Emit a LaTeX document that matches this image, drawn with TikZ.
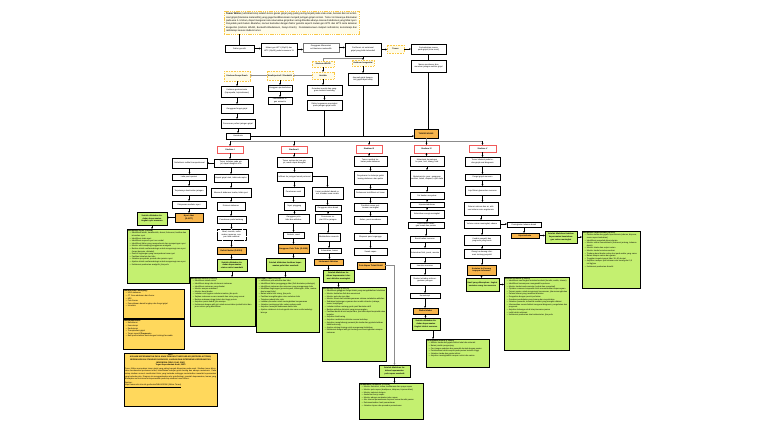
\documentclass[tikz,border=0pt]{standalone}
\usepackage{fontspec}
\setmainfont{Liberation Sans}
\usetikzlibrary{shadows,arrows.meta}
\definecolor{gr}{RGB}{196,240,112}
\definecolor{orb}{RGB}{247,181,76}
\definecolor{yl}{RGB}{255,216,92}
\definecolor{ylb}{RGB}{250,200,70}
\definecolor{ylf}{RGB}{255,252,232}
\definecolor{rd}{RGB}{240,90,90}
\newcommand\tf{\fontsize{2}{2.6}\selectfont}
\newcommand\itm[1]{\par\hangindent=4pt\hangafter=1\noindent\makebox[4pt][r]{\textbullet\hspace{1.3pt}}#1}
\newcommand\justif{\leftskip=0pt\rightskip=0pt\parfillskip=0pt plus 1fil\relax}
\tikzset{
 base/.style={inner sep=0.4pt, outer sep=0pt, font=\tf},
 wb/.style={base, draw=black, line width=0.6pt, fill=white, general shadow={fill=black!60, shadow xshift=0.6pt, shadow yshift=-0.8pt}},
 thinb/.style={base, draw=black!55, line width=0.35pt, fill=white},
 yb/.style={base, draw=ylb, line width=0.55pt, dash pattern=on 1pt off 0.6pt, fill=ylf, font=\tf\bfseries},
 topb/.style={base, draw=ylb, line width=0.65pt, dash pattern=on 1.4pt off 0.8pt, fill=ylf},
 ob/.style={wb, fill=orb, font=\tf\bfseries},
 gb/.style={wb, fill=gr, font=\tf\bfseries},
 gbig/.style={wb, fill=gr, line width=0.7pt},
 ybig/.style={wb, fill=yl, line width=0.7pt},
 rb/.style={base, draw=rd, line width=0.65pt, fill=white, font=\tf\bfseries},
 db/.style={base, draw=black, line width=0.45pt, dash pattern=on 0.6pt off 0.5pt, fill=white},
 cn/.style={draw=black, line width=0.6pt},
 ar/.style={cn, -{Stealth[length=1.9pt,width=1.8pt]}},
 gl/.style={draw=black!45, line width=0.65pt},
 gar/.style={gl, -{Stealth[length=1.9pt,width=1.8pt]}},
}
\newcommand{\bx}[7]{%
 \pgfmathsetmacro\bxw{#5-#3}\pgfmathsetmacro\bxh{#6-#4}\pgfmathsetmacro\bxt{#5-#3-1.6}%
 \node[#1, align=center, minimum width=\bxw pt, minimum height=\bxh pt, text width=\bxt pt] (#2) at ({(#3+#5)/2},{(#4+#6)/2}) {#7};}
\newcommand{\bigbx}[7]{%
 \pgfmathsetmacro\bxw{#5-#3-1.6}\pgfmathsetmacro\bxh{#6-#4-1.6}%
 \node[#1, inner sep=0.8pt, anchor=north west] (#2) at (#3,#4) {\begin{minipage}[t][\bxh pt][t]{\bxw pt}\raggedright #7\end{minipage}};}
\newcommand{\vd}[2]{\draw[ar] (#1.south) -- (#1.south |- #2.north);}
\begin{document}
\begin{tikzpicture}[x=1pt,y=-1pt]
\useasboundingbox (0,0) rectangle (768,431);
\fill[white] (0,0) rectangle (768,431);

% ---------------- top chain
\node[topb, minimum width=135pt, minimum height=23pt, text width=131pt, align=justify, font=\fontsize{2.4}{3.3}\selectfont] (T0) at (291.5,22.5) {\textbf{Tumor Wilms} (nefroblastoma) adalah tumor ganas ginjal yang paling sering terjadi pada anak-anak, berasal dari sel embrional ginjal (blastema metanefrik) yang gagal berdiferensiasi menjadi jaringan ginjal normal. Tumor ini biasanya ditemukan pada usia 2--5 tahun, dapat mengenai satu atau kedua ginjal dan sering ditandai adanya massa di abdomen yang tidak nyeri. Penyebab pasti belum diketahui, namun berkaitan dengan faktor genetik seperti mutasi gen WT1 dan WT2 serta kelainan kongenital (sindrom WAGR, Beckwith-Wiedemann, Denys-Drash). Penatalaksanaan meliputi nefrektomi, kemoterapi dan radioterapi sesuai stadium tumor.};
\bx{wb}{T1}{225}{45}{254}{52}{Faktor genetik}
\bx{wb}{T2}{261}{43}{297}{56}{Mutasi gen WT1 (11p13) dan WT2 (11p15) pada kromosom 11}
\bx{thinb}{T3}{303}{43}{339}{52}{Gangguan diferensiasi sel blastema metanefrik}
\bx{wb}{T4}{345}{43}{381}{56}{Proliferasi sel embrional ginjal yang tidak terkendali}
\bx{yb}{T5}{387}{45}{404}{53}{Tumor}
\bx{wb}{T6}{411}{44}{446}{54}{Pertumbuhan massa pada ginjal (intra renal)}
\bx{wb}{T7}{411}{60}{446}{72}{Massa membesar dan menekan jaringan sekitar ginjal}

% ---------------- second row
\bx{yb}{Y1}{312}{61}{334}{67}{Sindrom WAGR}
\bx{yb}{Y2}{352}{60}{374}{66}{Kelainan kongenital}
\bx{yb}{Y3}{312}{72}{334}{79}{Aniridia}
\bx{yb}{Y4}{267}{71}{293}{80}{Hemihipertrofi / Beckwith}
\bx{yb}{Y5}{224}{71}{250}{81}{Sindrom Denys-Drash}
\bx{wb}{A1}{221}{86}{253}{97}{Kelainan genitourinaria (hipospadia, kriptorkismus)}
\bx{wb}{A2}{221}{104}{253}{113}{Gangguan fungsi ginjal}
\bx{wb}{A3}{221}{119}{255}{128}{Penurunan perfusi jaringan ginjal}
\bx{wb}{A4}{226}{133}{250}{139}{Hematuria}
\bx{wb}{B1}{268}{85}{292}{91}{Gangguan pertumbuhan}
\bx{wb}{B2}{268}{97}{292}{104}{Pembesaran organ asimetris}
\bx{wb}{C1}{307}{85}{342}{95}{Retardasi mental dan gangguan tumbuh kembang}
\bx{wb}{C2}{307}{100}{342}{110}{Risiko keganasan meningkat pada jaringan ginjal anak}
\bx{wb}{D1}{348}{73}{378}{85}{Anomali ginjal kongenital (ginjal tapal kuda)}
\bx{ob}{OR}{414}{129}{438}{138}{TUMOR WILMS}

% ---------------- stadium headers
\bx{rb}{S1}{217}{146}{243}{153}{Stadium I}
\bx{rb}{S2}{281}{146}{307}{153}{Stadium II}
\bx{rb}{S3}{356}{145}{382}{153}{Stadium III}
\bx{rb}{S4}{414}{145}{439}{153}{Stadium IV}
\bx{rb}{S5}{469}{145}{496}{152}{Stadium V}

% ---------------- Stadium I
\bx{wb}{P1}{214}{159}{248}{167}{Tumor terbatas pada ginjal, dapat diangkat utuh}
\bx{wb}{P2}{214}{174}{248}{182}{Kapsul ginjal utuh, tidak ada ruptur}
\bx{wb}{P3}{211}{188}{251}{197}{Massa di abdomen teraba, tidak nyeri}
\bx{wb}{P4}{217}{202}{245}{210}{Distensi abdomen}
\bx{wb}{P5}{217}{216}{246}{223}{Penekanan pada lambung}
\bx{db}{P6}{217}{229}{246}{240}{Mual, muntah, nafsu makan menurun, asupan tidak adekuat}
\bx{ob}{P7}{217}{247}{246}{254}{Defisit Nutrisi (D.0019)}
\bx{gb}{P8}{217}{259}{247}{271}{Setelah dilakukan tindakan keperawatan status nutrisi membaik}
\bigbx{gbig}{P9}{190}{277}{255}{326}{\textbf{Manajemen Nutrisi (I.03119)}
\itm{Identifikasi status nutrisi}
\itm{Identifikasi alergi dan intoleransi makanan}
\itm{Identifikasi makanan yang disukai}
\itm{Monitor asupan makanan}
\itm{Monitor berat badan}
\itm{Lakukan oral hygiene sebelum makan, jika perlu}
\itm{Sajikan makanan secara menarik dan suhu yang sesuai}
\itm{Berikan makanan tinggi kalori dan tinggi protein}
\itm{Anjurkan posisi duduk, jika mampu}
\itm{Kolaborasi dengan ahli gizi untuk menentukan jumlah kalori dan jenis nutrien yang dibutuhkan}}
\bx{wb}{Q1}{172}{158}{207}{168}{Nefrektomi radikal transperitoneal}
\bx{wb}{Q2}{172}{174}{206}{180}{Luka post operasi}
\bx{wb}{Q3}{172}{186}{206}{195}{Terputusnya kontinuitas jaringan}
\bx{wb}{Q4}{172}{201}{206}{208}{Pelepasan mediator nyeri}
\bx{ob}{Q5}{175}{213}{203}{222}{Nyeri Akut\\(D.0077)}
\bx{gb}{Q6}{137}{212}{167}{225}{Setelah dilakukan tindakan keperawatan tingkat nyeri menurun}
\bigbx{gbig}{Q7}{127}{229}{189}{283}{\textbf{Manajemen Nyeri (I.08238)}
\itm{Identifikasi lokasi, karakteristik, durasi, frekuensi, kualitas dan intensitas nyeri}
\itm{Identifikasi skala nyeri}
\itm{Identifikasi respons nyeri non verbal}
\itm{Identifikasi faktor yang memperberat dan memperingan nyeri}
\itm{Monitor efek samping penggunaan analgetik}
\itm{Berikan teknik nonfarmakologis untuk mengurangi rasa nyeri (terapi bermain, distraksi)}
\itm{Kontrol lingkungan yang memperberat rasa nyeri}
\itm{Fasilitasi istirahat dan tidur}
\itm{Jelaskan penyebab, periode dan pemicu nyeri}
\itm{Ajarkan teknik nonfarmakologis untuk mengurangi rasa nyeri}
\itm{Kolaborasi pemberian analgetik, jika perlu}}
\bigbx{ybig}{R1}{123}{289}{184}{318}{\textbf{Pemeriksaan Penunjang :}
\itm{USG abdomen}
\itm{CT Scan abdomen dan thorax}
\itm{MRI}
\itm{Foto thorax}
\itm{Pemeriksaan darah lengkap dan fungsi ginjal}
\itm{Urinalisis}}
\bigbx{ybig}{R2}{123}{319}{184}{349}{\textbf{Penatalaksanaan :}
\itm{Nefrektomi}
\itm{Kemoterapi}
\itm{Radioterapi}
\itm{Transplantasi ginjal}
\itm{Terapi suportif}
\textbf{Prognosis :}
\itm{Baik pada stadium awal dengan histologi favorable}}
\bigbx{ybig}{R3}{124}{353}{217}{406}{\centering\textbf{WOC}\\\textbf{ASUHAN KEPERAWATAN PADA ANAK DENGAN TUMOR WILMS (NEFROBLASTOMA) BERDASARKAN STANDAR DIAGNOSIS, LUARAN DAN INTERVENSI KEPERAWATAN INDONESIA (SDKI, SLKI, SIKI)}\\\textbf{Tugas Keperawatan Anak, 2023}\par\vspace{1pt}
\justif Tumor Wilms merupakan tumor ginjal yang paling banyak ditemukan pada anak. Stadium tumor ditentukan berdasarkan perluasan tumor, keterlibatan kelenjar getah bening dan adanya metastasis. Pada setiap stadium muncul manifestasi klinis yang berbeda sehingga menimbulkan masalah keperawatan yang berbeda pula. Diagram ini menggambarkan alur patofisiologi, masalah keperawatan, luaran yang diharapkan serta intervensi keperawatan pada tiap stadium tumor Wilms.\par\vspace{1pt}
\raggedright Sumber:\\\underline{https://www.ncbi.nlm.nih.gov/books/NBK442004/ (Wilms Tumor)}}

% ---------------- Stadium II
\bx{wb}{U1}{277}{157}{312}{167}{Tumor meluas ke luar ginjal, masih dapat diangkat}
\bx{wb}{U2}{277}{172}{312}{181}{Infiltrasi ke jaringan lemak perirenal}
\bx{wb}{U3}{283}{187}{304}{196}{Penekanan saraf}
\bx{wb}{U4}{284}{202}{305}{210}{Nyeri pinggang}
\bx{wb}{U5}{278}{214}{309}{223}{Gangguan pola tidur dan aktivitas}
\bx{wb}{U6}{283}{232}{304}{238}{Gelisah, rewel}
\bx{ob}{U7}{278}{244}{309}{253}{Gangguan Pola Tidur (D.0055)}
\bx{gb}{U8}{266}{258}{305}{271}{Setelah dilakukan tindakan keperawatan pola tidur membaik}
\bigbx{gbig}{U9}{256}{277}{319}{332}{\textbf{Dukungan Tidur (I.05174)}
\itm{Identifikasi pola aktivitas dan tidur}
\itm{Identifikasi faktor pengganggu tidur (fisik dan/atau psikologis)}
\itm{Identifikasi makanan dan minuman yang mengganggu tidur}
\itm{Modifikasi lingkungan (pencahayaan, kebisingan, suhu, matras dan tempat tidur)}
\itm{Batasi waktu tidur siang, jika perlu}
\itm{Fasilitasi menghilangkan stres sebelum tidur}
\itm{Tetapkan jadwal tidur rutin}
\itm{Lakukan prosedur untuk meningkatkan kenyamanan}
\itm{Jelaskan pentingnya tidur cukup selama sakit}
\itm{Anjurkan menepati kebiasaan waktu tidur}
\itm{Ajarkan relaksasi otot autogenik atau cara nonfarmakologi lainnya}}
\bx{wb}{V1}{312}{187}{343}{199}{Invasi pembuluh darah renal, trombus vena renalis}
\bx{wb}{V2}{315}{205}{341}{211}{Gangguan aliran darah}
\bx{wb}{V3}{315}{214}{341}{223}{Penurunan suplai O2 ke jaringan}
\bx{wb}{V4}{318}{233}{340}{241}{Metabolisme anaerob}
\bx{wb}{V5}{318}{248}{341}{253}{Kelemahan, lemas}
\bx{ob}{V6}{314}{259}{343}{265}{Intoleransi Aktivitas}
\bx{gb}{V7}{323}{270}{354}{282}{Setelah dilakukan tindakan keperawatan toleransi aktivitas meningkat}
\bigbx{gbig}{V8}{322}{287}{386}{361}{\textbf{Manajemen Energi (I.05178)}
\itm{Identifikasi gangguan fungsi tubuh yang mengakibatkan kelelahan}
\itm{Monitor kelelahan fisik dan emosional}
\itm{Monitor pola dan jam tidur}
\itm{Monitor lokasi dan ketidaknyamanan selama melakukan aktivitas}
\itm{Sediakan lingkungan nyaman dan rendah stimulus (cahaya, suara, kunjungan)}
\itm{Lakukan latihan rentang gerak pasif dan/atau aktif}
\itm{Berikan aktivitas distraksi yang menenangkan}
\itm{Fasilitasi duduk di sisi tempat tidur, jika tidak dapat berpindah atau berjalan}
\itm{Anjurkan tirah baring}
\itm{Anjurkan melakukan aktivitas secara bertahap}
\itm{Anjurkan menghubungi perawat jika tanda dan gejala kelelahan tidak berkurang}
\itm{Ajarkan strategi koping untuk mengurangi kelelahan}
\itm{Kolaborasi dengan ahli gizi tentang cara meningkatkan asupan makanan}}

% ---------------- Stadium III
\bx{wb}{W1}{354}{156}{387}{166}{Tumor residual terbatas pada abdomen}
\bx{wb}{W2}{354}{171}{387}{184}{Penyebaran ke kelenjar getah bening abdomen atau pelvis}
\bx{wb}{W3}{354}{189}{387}{197}{Peritoneum terinfiltrasi sel tumor}
\bx{wb}{W4}{354}{203}{387}{211}{Produksi cairan peritoneum meningkat}
\bx{wb}{W5}{354}{216}{387}{224}{Asites, perut membesar}
\bx{wb}{W6}{354}{233}{387}{240}{Ekspansi paru terganggu}
\bx{wb}{W7}{354}{248}{387}{255}{Sesak napas}
\bx{ob}{W8}{357}{262}{385}{269}{Pola Napas Tidak Efektif}
\bx{gb}{W9}{379}{365}{410}{377}{Setelah dilakukan tindakan keperawatan pola napas membaik}
\bigbx{gbig}{W10}{359}{383}{423}{419}{\textbf{Pemantauan Respirasi (I.01014)}
\itm{Monitor frekuensi, irama, kedalaman dan upaya napas}
\itm{Monitor pola napas (bradipnea, takipnea, hiperventilasi)}
\itm{Monitor saturasi oksigen}
\itm{Auskultasi bunyi napas}
\itm{Monitor adanya sumbatan jalan napas}
\itm{Atur interval pemantauan respirasi sesuai kondisi pasien}
\itm{Dokumentasikan hasil pemantauan}
\itm{Jelaskan tujuan dan prosedur pemantauan}}

% ---------------- Stadium IV
\bx{wb}{X1}{410}{156}{444}{166}{Metastasis hematogen ke paru, hati, tulang, otak}
\bx{wb}{X2}{410}{170}{444}{186}{Metastasis ke paru: gangguan ventilasi, batuk, dispnea, nyeri dada}
\bx{wb}{X3}{410}{192}{444}{199}{Sel kanker menyebar}
\bx{wb}{X4}{410}{202}{444}{207}{Hipermetabolisme}
\bx{wb}{X5}{410}{210}{444}{218}{Kebutuhan energi meningkat}
\bx{wb}{X6}{408}{222}{444}{228}{Pemecahan cadangan lemak dan protein}
\bx{wb}{X7}{410}{236}{440}{242}{Berat badan menurun}
\bx{wb}{X8}{410}{248}{440}{257}{Kelemahan fisik, pucat, anemia}
\bx{wb}{X9}{410}{263}{440}{268}{Imunitas menurun}
\bx{wb}{X10}{410}{275}{440}{285}{Rentan terhadap mikroorganisme patogen}
\bx{wb}{X11}{410}{293}{440}{298}{Kemoterapi}
\bx{ob}{X12}{413}{308}{438}{314}{Risiko Infeksi}
\bx{gb}{X13}{412}{318}{440}{330}{Setelah dilakukan tindakan keperawatan tingkat infeksi menurun}
\bigbx{gbig}{X14}{426}{339}{489}{367}{\textbf{Pencegahan Infeksi (I.14539)}
\itm{Monitor tanda dan gejala infeksi lokal dan sistemik}
\itm{Batasi jumlah pengunjung}
\itm{Cuci tangan sebelum dan sesudah kontak dengan pasien}
\itm{Pertahankan teknik aseptik pada pasien berisiko tinggi}
\itm{Jelaskan tanda dan gejala infeksi}
\itm{Anjurkan meningkatkan asupan nutrisi dan cairan}}

% ---------------- Stadium V
\bx{wb}{Z1}{465}{157}{500}{166}{Tumor bilateral pada kedua ginjal saat diagnosis}
\bx{wb}{Z2}{465}{174}{500}{180}{Fungsi ginjal menurun}
\bx{wb}{Z3}{465}{186}{500}{195}{Laju filtrasi glomerulus menurun}
\bx{wb}{Z4}{464}{202}{498}{215}{Retensi natrium dan air, aktivasi sistem renin-angiotensin}
\bx{wb}{Z5}{464}{220}{500}{228}{Volume cairan meningkat, edema}
\bx{wb}{Z5b}{507}{222}{541}{227}{Peningkatan tekanan darah}
\bx{ob}{Z5c}{511}{233}{539}{238}{Hipervolemia}
\bx{gb}{Z5d}{545}{231}{577}{243}{Setelah dilakukan tindakan keperawatan keseimbangan cairan meningkat}
\bigbx{gbig}{Z5e}{582}{231}{640}{288}{\textbf{Manajemen Hipervolemia (I.03114)}
\itm{Periksa tanda dan gejala hipervolemia (edema, dispnea, suara napas tambahan)}
\itm{Identifikasi penyebab hipervolemia}
\itm{Monitor status hemodinamik (frekuensi jantung, tekanan darah)}
\itm{Monitor intake dan output cairan}
\itm{Monitor tanda hemokonsentrasi}
\itm{Timbang berat badan setiap hari pada waktu yang sama}
\itm{Batasi asupan cairan dan garam}
\itm{Tinggikan kepala tempat tidur 30--40 derajat}
\itm{Anjurkan melapor jika haluaran urin kurang dari 0,5 mL/kg/jam}
\itm{Kolaborasi pemberian diuretik}}
\bx{wb}{Z6}{464}{235}{500}{245}{Kondisi penyakit dan prognosis yang buruk}
\bx{wb}{Z7}{464}{249}{500}{258}{Orang tua kurang informasi tentang penyakit}
\bx{ob}{Z8}{467}{265}{496}{275}{Ansietas b.d kurang terpapar informasi}
\bx{gb}{Z9}{466}{278}{499}{291}{Hasil yang diharapkan: tingkat ansietas orang tua menurun}
\bigbx{gbig}{Z10}{504}{277}{569}{350}{\textbf{Reduksi Ansietas (I.09314)}
\itm{Identifikasi saat tingkat ansietas berubah (kondisi, waktu, stresor)}
\itm{Identifikasi kemampuan mengambil keputusan}
\itm{Monitor tanda-tanda ansietas (verbal dan nonverbal)}
\itm{Ciptakan suasana terapeutik untuk menumbuhkan kepercayaan}
\itm{Temani pasien untuk mengurangi kecemasan, jika memungkinkan}
\itm{Pahami situasi yang membuat ansietas}
\itm{Dengarkan dengan penuh perhatian}
\itm{Gunakan pendekatan yang tenang dan meyakinkan}
\itm{Jelaskan prosedur, termasuk sensasi yang mungkin dialami}
\itm{Informasikan secara faktual mengenai diagnosis, pengobatan dan prognosis}
\itm{Anjurkan keluarga untuk tetap bersama pasien}
\itm{Latih teknik relaksasi}
\itm{Kolaborasi pemberian obat antiansietas, jika perlu}}

% ================= connectors
\draw[cn] (T0.south -| T1.north) -- (T1.north);
\draw[ar] (T1.east) -- (T1.east -| T2.west);
\draw[ar] (T2.east) -- (T2.east -| T3.west);
\draw[ar] (T3.east) -- (T3.east -| T4.west);
\draw[ar] (T4.east) -- (T4.east -| T5.west);
\draw[ar] (T5.east) -- (T5.east -| T6.west);
\draw[cn] (T6.south) -- (T7.north);
\draw[cn] (T7.south) -- (T7.south |- OR.north);
\draw[gl] (T4.south) -- ++(0,2) -| (Y1.north);
\vd{T4}{Y2}
\vd{Y1}{Y3}
\draw[gar] (Y3.west) -- (Y3.west -| Y4.east);
\draw[gar] (Y4.west) -- (Y4.west -| Y5.east);
\vd{Y5}{A1} \vd{A1}{A2} \vd{A2}{A3} \vd{A3}{A4}
\vd{Y4}{B1} \vd{B1}{B2}
\vd{Y3}{C1} \vd{C1}{C2}
\vd{Y2}{D1}
\draw[ar] (A4.east) -- (A4.east -| OR.west);
\draw[cn] (B2.south) -- (B2.south |- A4.east);
\draw[cn] (C2.south) -- (C2.south |- A4.east);
\draw[cn] (D1.south) -- (D1.south |- A4.east);
% bus to stadiums
\coordinate (bl) at (230,141);
\coordinate (br) at (482.5,141);
\draw[gl] (OR.south) -- (OR.south |- bl);
\draw[gl] (bl) -- (br);
\draw[ar] (S1.north |- bl) -- (S1.north);
\draw[ar] (S2.north |- bl) -- (S2.north);
\draw[ar] (S3.north |- bl) -- (S3.north);
\draw[ar] (S4.north |- bl) -- (S4.north);
\draw[ar] (S5.north |- bl) -- (S5.north);
% stadium I
\vd{S1}{P1} \vd{P1}{P2} \vd{P2}{P3} \vd{P3}{P4} \vd{P4}{P5} \vd{P5}{P6} \vd{P6}{P7} \vd{P7}{P8} \vd{P8}{P9}
\draw[ar] (P1.west) -- (P1.west -| Q1.east);
\vd{Q1}{Q2} \vd{Q2}{Q3} \vd{Q3}{Q4} \vd{Q4}{Q5}
\draw[ar] (Q5.west) -- (Q5.west -| Q6.east);
\vd{Q6}{Q7}
% stadium II
\vd{S2}{U1} \vd{U1}{U2} \vd{U2}{U3} \vd{U3}{U4} \vd{U4}{U5} \vd{U5}{U6} \vd{U6}{U7} \vd{U7}{U8} \vd{U8}{U9}
\draw[ar] (U2.east) -| (V1.north);
\vd{V1}{V2} \vd{V2}{V3} \vd{V3}{V4} \vd{V4}{V5} \vd{V5}{V6} \vd{V6}{V7} \vd{V7}{V8}
% stadium III
\vd{S3}{W1} \vd{W1}{W2} \vd{W2}{W3} \vd{W3}{W4} \vd{W4}{W5} \vd{W5}{W6} \vd{W6}{W7} \vd{W7}{W8}
\draw[gar] (W8.east) -| (W9.north);
\vd{W9}{W10}
% stadium IV
\vd{S4}{X1} \vd{X1}{X2} \vd{X2}{X3} \vd{X3}{X4} \vd{X4}{X5} \vd{X5}{X6} \vd{X6}{X7} \vd{X7}{X8} \vd{X8}{X9} \vd{X9}{X10} \vd{X10}{X11} \vd{X11}{X12} \vd{X12}{X13}
\draw[ar] ([xshift=7pt]X13.south) -- ([xshift=7pt]X13.south |- X14.north);
% stadium V
\vd{S5}{Z1} \vd{Z1}{Z2} \vd{Z2}{Z3} \vd{Z3}{Z4} \vd{Z4}{Z5} \vd{Z5}{Z6} \vd{Z6}{Z7} \vd{Z7}{Z8} \vd{Z8}{Z9}
\draw[ar] (Z5.east) -- (Z5.east -| Z5b.west);
\vd{Z5b}{Z5c}
\draw[ar] (Z5c.east) -- (Z5c.east -| Z5d.west);
\draw[ar] (Z5d.east) -- (Z5d.east -| Z5e.west);
\draw[ar] (Z9.east) -- (Z9.east -| Z10.west);
\end{tikzpicture}
\end{document}
